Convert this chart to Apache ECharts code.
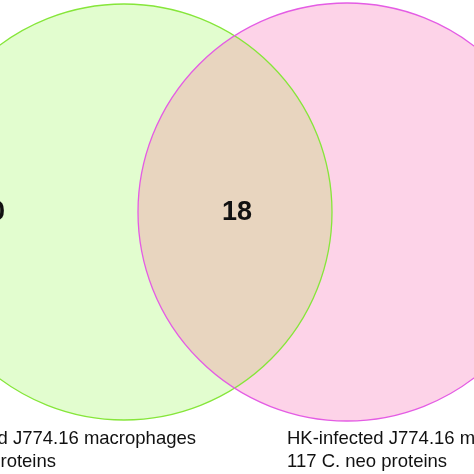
<!DOCTYPE html>
<html>
<head>
<meta charset="utf-8">
<script src="https://cdn.jsdelivr.net/npm/echarts@6/dist/echarts.min.js"></script>
<style>html,body{margin:0;padding:0;background:#fff}#chart{width:474px;height:474px}</style>
</head>
<body>
<div id="chart"></div>
<script>
// circles: [cx, cy, r] in picture units
var setNames = ['Uninfected J774.16 macrophages', 'HK-infected J774.16 macrophages'];
var setCircles = [[124, 212, 208], [347, 212, 209]];
var fills = ['#e2fdcf', '#fdd3e8'];
var strokes = ['#86e63a', '#e45ce4'];
var overlapFill = '#e8d5bf';
var overlapCount = 18;
var onlyLeftCount = 100;
var labelLines = [['Uninfected J774.16 macrophages', '136 C. neo proteins'],
                  ['HK-infected J774.16 macrophages', '117 C. neo proteins']];

var chart = echarts.init(document.getElementById('chart'));
var data = setCircles.map(function (c) { return c; });

function circleItem(withFill) {
    return function (params, api) {
        var c = api.coord([api.value(0), api.value(1)]);
        var r = api.size([api.value(2), 0])[0];
        var i = params.dataIndex;
        return {
            type: 'circle',
            shape: { cx: c[0], cy: c[1], r: r },
            style: withFill
                ? { fill: fills[i], stroke: null }
                : { fill: null, stroke: strokes[i], lineWidth: 1.3 }
        };
    };
}

// lens between the two circles
function lensItem(params, api) {
    if (params.dataIndex > 0) return null;
    var a = setCircles[0], b = setCircles[1];
    var ca = api.coord([a[0], a[1]]), cb = api.coord([b[0], b[1]]);
    var ra = api.size([a[2], 0])[0], rb = api.size([b[2], 0])[0];
    var dx = cb[0] - ca[0], dy = cb[1] - ca[1];
    var d = Math.sqrt(dx * dx + dy * dy);
    var l = (ra * ra - rb * rb + d * d) / (2 * d);
    var h = Math.sqrt(ra * ra - l * l);
    var mx = ca[0] + l * dx / d, my = ca[1] + l * dy / d;
    var p1 = [mx + h * dy / d, my - h * dx / d];
    var p2 = [mx - h * dy / d, my + h * dx / d];
    var path = 'M' + p1[0] + ' ' + p1[1] +
        ' A' + ra + ' ' + ra + ' 0 0 1 ' + p2[0] + ' ' + p2[1] +
        ' A' + rb + ' ' + rb + ' 0 0 1 ' + p1[0] + ' ' + p1[1] + ' Z';
    return { type: 'path', shape: { pathData: path }, style: { fill: overlapFill, stroke: null } };
}

var option = {
    animation: false,
    grid: { left: 0, right: 0, top: 0, bottom: 0 },
    xAxis: { type: 'value', min: 0, max: 474, show: false },
    yAxis: { type: 'value', min: 0, max: 474, inverse: true, show: false },
    series: [
        { type: 'custom', renderItem: circleItem(true), data: data, z: 1 },
        { type: 'custom', renderItem: lensItem, data: data, z: 2 },
        { type: 'custom', renderItem: circleItem(false), data: data, z: 3 }
    ],
    graphic: [
        { type: 'text', x: 237, y: 213, z: 10, style: { text: String(overlapCount), font: 'bold 27px "Liberation Sans", Arial', fill: '#111', align: 'center', verticalAlign: 'middle' } },
        { type: 'text', x: 5, y: 213, z: 10, style: { text: String(onlyLeftCount), font: 'bold 27px "Liberation Sans", Arial', fill: '#111', align: 'right', verticalAlign: 'middle' } },
        { type: 'text', x: 196, y: 439, z: 10, style: { text: labelLines[0][0], font: '18.5px "Liberation Sans", Arial', fill: '#111', align: 'right', verticalAlign: 'middle' } },
        { type: 'text', x: 56, y: 462, z: 10, style: { text: labelLines[0][1], font: '18.5px "Liberation Sans", Arial', fill: '#111', align: 'right', verticalAlign: 'middle' } },
        { type: 'text', x: 287, y: 439, z: 10, style: { text: labelLines[1][0], font: '18.5px "Liberation Sans", Arial', fill: '#111', align: 'left', verticalAlign: 'middle' } },
        { type: 'text', x: 287, y: 462, z: 10, style: { text: labelLines[1][1], font: '18.5px "Liberation Sans", Arial', fill: '#111', align: 'left', verticalAlign: 'middle' } }
    ]
};
chart.setOption(option);
</script>
</body>
</html>
